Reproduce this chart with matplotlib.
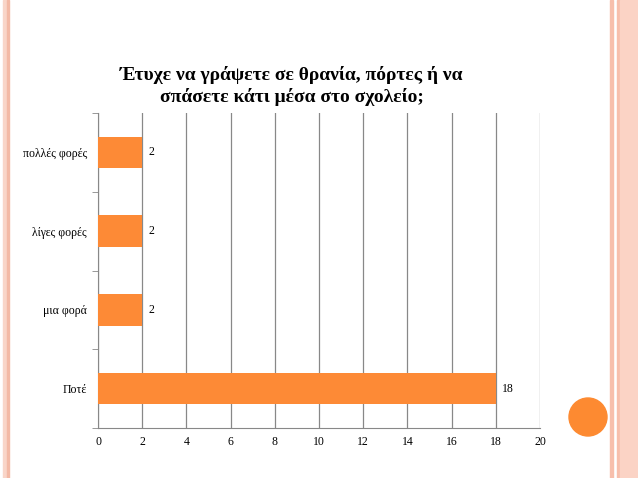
import matplotlib
matplotlib.use("Agg")
import matplotlib.pyplot as plt
from matplotlib.patches import Rectangle, Ellipse

categories = ["Ποτέ", "μια φορά", "λίγες φορές", "πολλές φορές"]
values = [18, 2, 2, 2]
title = "Έτυχε να γράψετε σε θρανία, πόρτες ή να\nσπάσετε κάτι μέσα στο σχολείο;"

plt.rcParams['font.family'] = ['Liberation Serif', 'DejaVu Serif']
fig = plt.figure(figsize=(6.38, 4.78), dpi=100)
W, H = 638, 478

def band(x0, x1, c):
    fig.patches.append(Rectangle((x0 / W, 0), (x1 - x0) / W, 1, transform=fig.transFigure, color=c, zorder=0))
band(3, 7, '#f9d5c8')
band(7, 8.5, '#f3b9a5')
band(610, 613, '#f7bfac')
band(617, 620, '#f7bfac')
band(620, 638, '#fbd3c5')
fig.patches.append(Ellipse((588 / W, (H - 417) / H), 38 / W, 38 / H, transform=fig.transFigure, color='#fd8a31', zorder=1))

ax = fig.add_axes([98 / W, 1 - 428 / H, (540 - 98) / W, (428 - 113) / H])
y = range(len(categories))
ax.barh(list(y), values, height=0.4, color='#fd8a36', zorder=3)
for i, v in enumerate(values):
    ax.text(v + 0.3, i, str(v), va='center', ha='left', fontsize=8.5)
ax.set_xlim(0, 20)
ax.set_ylim(-0.5, len(categories) - 0.5)
ax.set_xticks(range(0, 21, 2))
ax.set_yticks(list(y))
ax.set_yticklabels(categories, fontsize=8.5)
ax.set_yticks([i - 0.5 for i in range(len(categories) + 1)], minor=True)
ax.tick_params(axis='y', which='major', length=0, pad=8)
ax.tick_params(axis='y', which='minor', length=4, color='#888888')
ax.tick_params(axis='x', length=0, labelsize=8.5, pad=6)
ax.grid(axis='x', color='#888888', linewidth=0.9, zorder=0)
for s in ['top', 'right']:
    ax.spines[s].set_visible(False)
ax.spines['left'].set_color('#888888')
ax.spines['bottom'].set_color('#888888')
fig.text(292 / W, 1 - 86 / H, title, ha='center', va='center', fontsize=14, fontweight='bold', linespacing=1.25)
fig.savefig('out.png', dpi=100, facecolor='white')
